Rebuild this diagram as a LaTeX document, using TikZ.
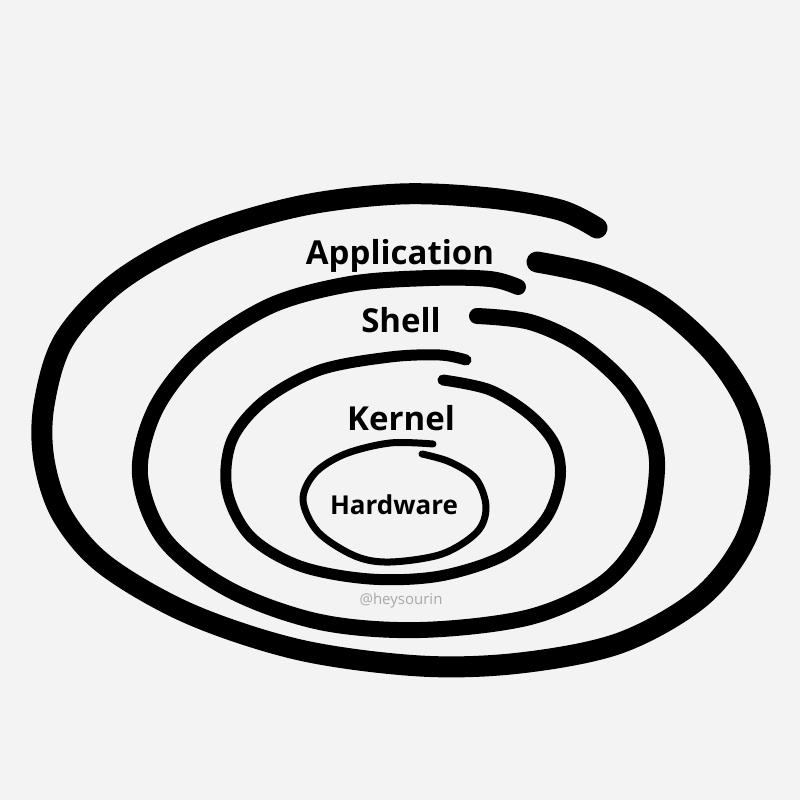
\documentclass[tikz,border=0pt]{standalone}
\usepackage{fontspec}
\setmainfont{Open Sans}
\definecolor{bgc}{HTML}{F3F3F3}
\definecolor{creditc}{HTML}{A8A8A8}
\tikzset{
  ring/.style={draw=black, line cap=round, line join=round},
  lbl/.style={font=\fontsize{33}{36}\selectfont\bfseries, text=black, inner sep=0pt},
}
\begin{document}
\begin{tikzpicture}[x=1pt,y=-1pt]
\fill[bgc] (0,0) rectangle (800,800);
\useasboundingbox (0,0) rectangle (800,800);
% Application ring
\draw[ring, line width=21pt] plot[smooth, tension=0.55] coordinates {
 (537,262) (600,276) (660,305) (715,355) (750,412) (760,475) (745,540)
 (700,598) (620,643) (520,663) (420,666) (300,650) (190,614) (105,565)
 (62,515) (44,460) (44,405) (64,340) (118,282) (200,236) (300,206) (400,194)
 (490,198) (560,210) (597,228)};
% Shell ring
\draw[ring, line width=16pt] plot[smooth, tension=0.55] coordinates {
 (477,316) (530,322) (580,345) (625,385) (650,430) (657,470) (645,530)
 (605,582) (530,617) (420,630) (320,622) (230,590) (165,540) (140,475)
 (155,410) (200,352) (270,306) (350,284) (430,278) (490,279) (518,287)};
% Kernel ring
\draw[ring, line width=11pt] plot[smooth, tension=0.55] coordinates {
 (443,380) (490,390) (530,415) (555,445) (560,480) (545,520) (505,555)
 (440,576) (370,579) (300,566) (250,536) (227,490) (232,440) (265,400)
 (320,370) (390,357) (440,355) (466,360)};
% Hardware ring
\draw[ring, line width=7pt] plot[smooth, tension=0.55] coordinates {
 (422,454) (450,462) (476,479) (486,507) (477,532) (442,554) (390,562)
 (355,556) (318,532) (303,500) (315,473) (345,454) (390,443) (433,444)};
% labels
\node[lbl, anchor=base] (app) at (400,264) {Application};
\node[lbl, anchor=base] (shell) at (401,332) {Shell};
\node[lbl, anchor=base] (kernel) at (401,430) {Kernel};
\node[lbl, anchor=base, font=\fontsize{26}{30}\selectfont\bfseries] (hw) at (394,514) {Hardware};
\node[anchor=base, inner sep=0pt, text=creditc, font=\fontsize{15}{18}\selectfont] (credit) at (401,604) {@heysourin};
\end{tikzpicture}
\end{document}
